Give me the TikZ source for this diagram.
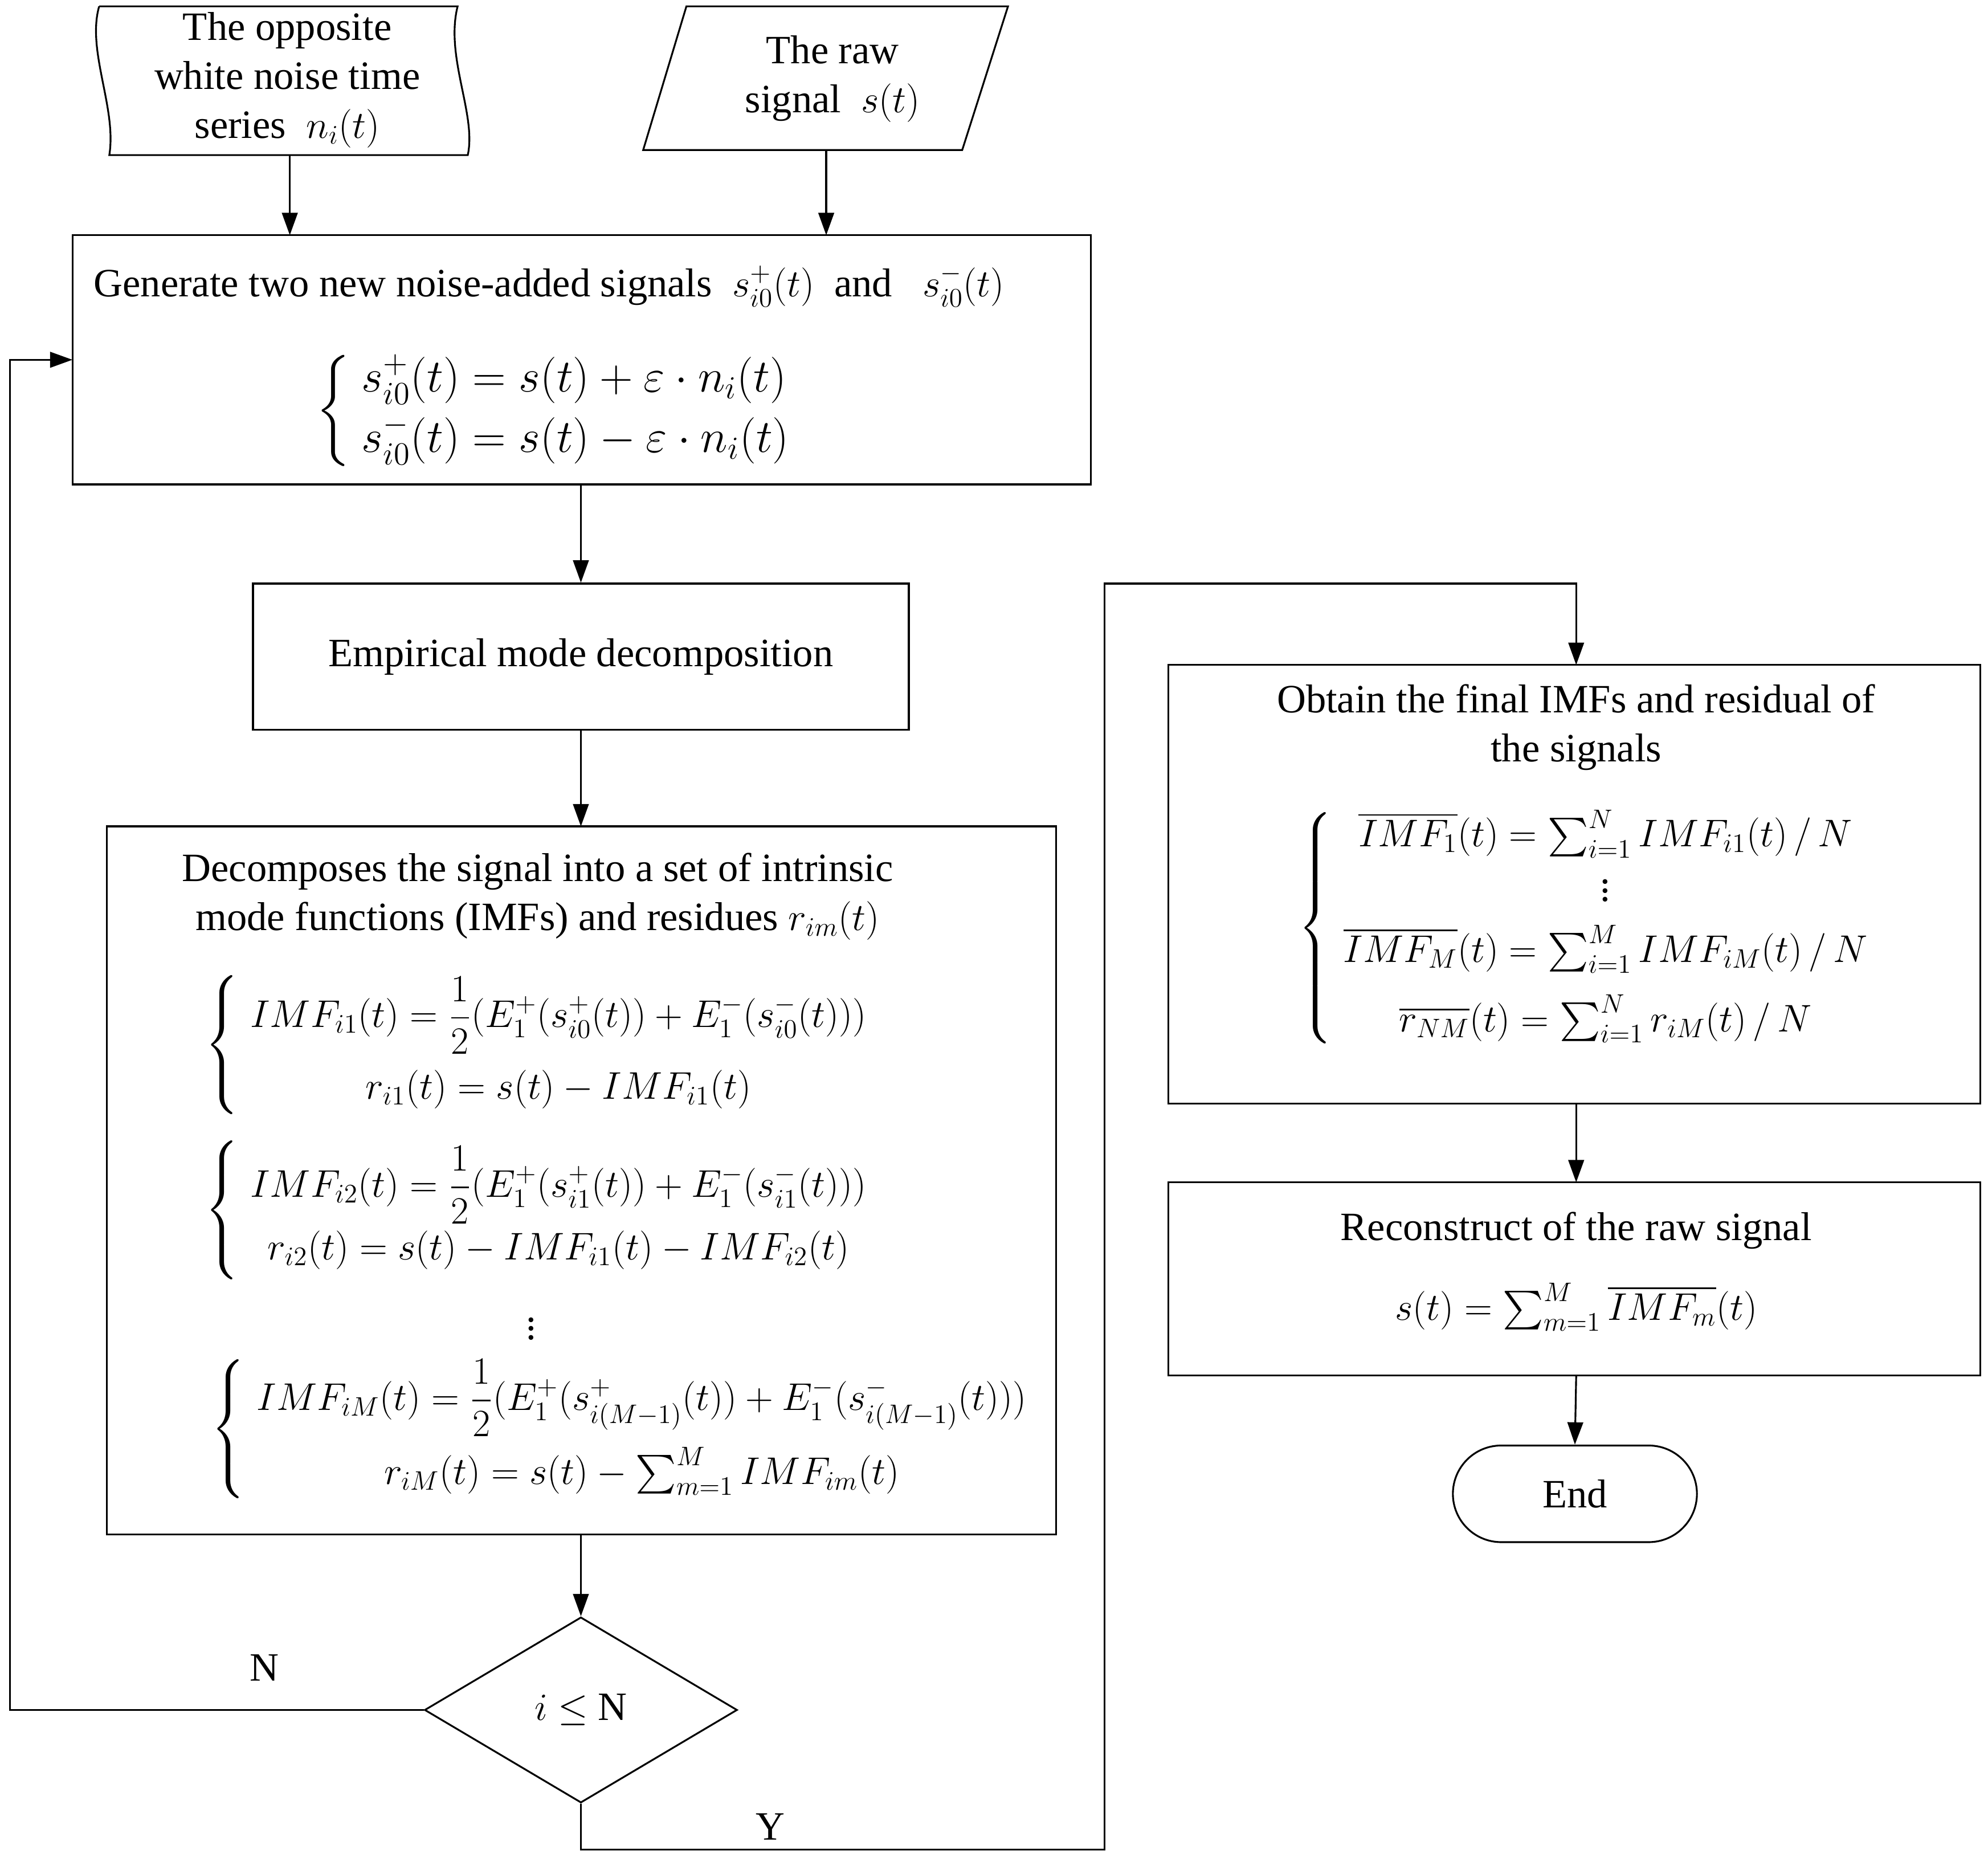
\documentclass[tikz,border=0pt]{standalone}
\usepackage{amsmath}
\usepackage{fontspec}
\setmainfont{Liberation Serif}
\usetikzlibrary{arrows.meta,shapes.geometric}
\begin{document}
\begin{tikzpicture}[x=0.02cm,y=-0.02cm,
  box/.style={draw,thick,inner sep=0pt},
  arr/.style={draw,thick,-{Triangle[length=10pt,width=7pt]}},
  txt/.style={font=\fontsize{18}{22}\selectfont,align=center},
  eq/.style={font=\fontsize{20}{25}\selectfont},
  eqs/.style={font=\fontsize{18}{22}\selectfont}]
\useasboundingbox (0,0) rectangle (1564,1462);
% input noise (tape-like)
\draw[thick] (78,5) -- (360,5) .. controls (350,45) and (375,90) .. (368,122) -- (86,122) .. controls (92,85) and (68,40) .. (78,5);
\node[txt] (noise) at (226,63) {The opposite\\white noise time\\series \ $n_i(t)$};
\coordinate (noiseb) at (228,122);
% raw signal
\draw[thick] (540,5) -- (793,5) -- (757,118) -- (506,118) -- cycle;
\node[txt] (raw) at (655,62) {The raw\\signal \ $s(t)$};
\coordinate (rawb) at (650,118);
% generate
\draw[thick] (57,185) rectangle (858,381);
\node[txt] (gen1) at (432,225) {Generate two new noise-added signals \ $s^{+}_{i0}(t)$ \ and \ \ $s^{-}_{i0}(t)$};
\node[eq] (gen2) at (440,323) {$\left\{\begin{array}{l} s^{+}_{i0}(t)=s(t)+\varepsilon\cdot n_i(t)\\[2pt] s^{-}_{i0}(t)=s(t)-\varepsilon\cdot n_i(t)\end{array}\right.$};
\coordinate (gent) at (228,185); \coordinate (gent2) at (650,185);
\coordinate (genb) at (457,381); \coordinate (genl) at (57,283);
\draw[arr] (noiseb) -- (gent);
\draw[arr] (rawb) -- (gent2);
% emd
\node[box,minimum width=516*0.02cm,minimum height=115*0.02cm,txt] (emd) at (457,516.5) {Empirical mode decomposition};
\draw[arr] (genb) -- (emd.north);
% decompose
\draw[thick] (84,650) rectangle (831,1207);
\coordinate (dect) at (457,650); \coordinate (decb) at (457,1207);
\draw[arr] (emd.south) -- (dect);
\node[txt] (dec1) at (423,705) {Decomposes the signal into a set of intrinsic\\mode functions (IMFs) and residues $r_{im}(t)$};
\node[eqs,anchor=west] (dec2) at (155,822) {$\left\{\begin{array}{c} IMF_{i1}(t)=\dfrac{1}{2}(E^{+}_1(s^{+}_{i0}(t))+E^{-}_1(s^{-}_{i0}(t)))\\[10pt] r_{i1}(t)=s(t)-IMF_{i1}(t)\end{array}\right.$};
\node[eqs,anchor=west] (dec3) at (155,952) {$\left\{\begin{array}{c} IMF_{i2}(t)=\dfrac{1}{2}(E^{+}_1(s^{+}_{i1}(t))+E^{-}_1(s^{-}_{i1}(t)))\\[6pt] r_{i2}(t)=s(t)-IMF_{i1}(t)-IMF_{i2}(t)\end{array}\right.$};
\node[eqs] (dots1) at (418,1040) {$\vdots$};
\node[eqs,anchor=west] (dec4) at (160,1124) {$\left\{\begin{array}{c} IMF_{iM}(t)=\dfrac{1}{2}(E^{+}_1(s^{+}_{i(M-1)}(t))+E^{-}_1(s^{-}_{i(M-1)}(t)))\\[10pt] r_{iM}(t)=s(t)-\sum_{m=1}^{M}IMF_{im}(t)\end{array}\right.$};
% diamond
\node[draw,thick,diamond,aspect=1.68,minimum width=246*0.02cm,minimum height=146*0.02cm,inner sep=0pt,txt] (dia) at (457,1345) {$i\le$ N};
\draw[arr] (decb) -- (dia.north);
\coordinate (nl) at (8,1345); \coordinate (nt) at (8,283);
\draw[arr] (dia.west) -- (nl) -- (nt) -- (genl);
\node[txt] (N) at (208,1312) {N};
\coordinate (y1) at (457,1455); \coordinate (y2) at (869,1455); \coordinate (y3) at (869,459); \coordinate (y4) at (1240,459);
\coordinate (obtt) at (1240,523);
\draw[arr] (dia.south) -- (y1) -- (y2) -- (y3) -- (y4) -- (obtt);
\node[txt] (Y) at (606,1437) {Y};
% obtain
\draw[thick] (919,523) rectangle (1558,868);
\coordinate (obtb) at (1240,868);
\node[txt] (obt1) at (1240,572) {Obtain the final IMFs and residual of\\the signals};
\node[eqs,anchor=west] (obt2) at (1015,730) {$\left\{\begin{array}{c} \overline{IMF_1}(t)=\sum_{i=1}^{N}IMF_{i1}(t)\,/\,N\\[2pt] \vdots\\[4pt] \overline{IMF_M}(t)=\sum_{i=1}^{M}IMF_{iM}(t)\,/\,N\\[8pt] \overline{r_{NM}}(t)=\sum_{i=1}^{N}r_{iM}(t)\,/\,N\end{array}\right.$};
% reconstruct
\draw[thick] (919,930) rectangle (1558,1082);
\coordinate (rect) at (1240,930); \coordinate (recb) at (1240,1082);
\draw[arr] (obtb) -- (rect);
\node[txt] (rec1) at (1240,968) {Reconstruct of the raw signal};
\node[eqs] (rec2) at (1240,1028) {$s(t)=\sum_{m=1}^{M}\overline{IMF_m}(t)$};
% end
\node[draw,thick,rounded corners=38*0.02cm,minimum width=192*0.02cm,minimum height=76*0.02cm,txt] (end) at (1239,1175) {End};
\draw[arr] (recb) -- (end.north);
\end{tikzpicture}
\end{document}
